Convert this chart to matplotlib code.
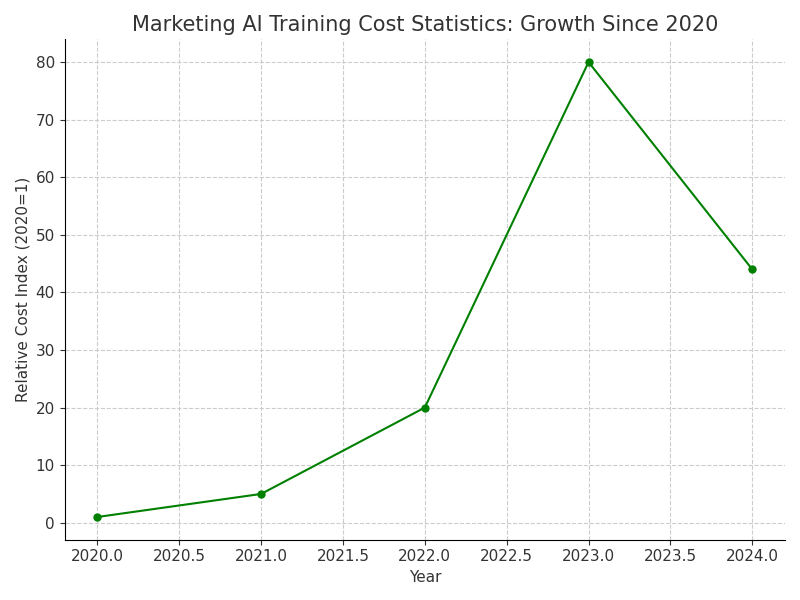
import matplotlib.pyplot as plt

years = [2020, 2021, 2022, 2023, 2024]
cost_index = [1, 5, 20, 80, 44]

fig, ax = plt.subplots(figsize=(8, 6), dpi=100)
ax.plot(years, cost_index, marker='o', color='green', markersize=5)
ax.set_title('Marketing AI Training Cost Statistics: Growth Since 2020', fontsize=15, color='#333333')
ax.set_xlabel('Year', fontsize=11, color='#333333')
ax.set_ylabel('Relative Cost Index (2020=1)', fontsize=11, color='#333333')
ax.grid(True, linestyle='--', color='#cccccc')
ax.spines['top'].set_visible(False)
ax.spines['right'].set_visible(False)
ax.tick_params(labelsize=11, colors='#333333')
plt.tight_layout()
plt.savefig('out.png')
